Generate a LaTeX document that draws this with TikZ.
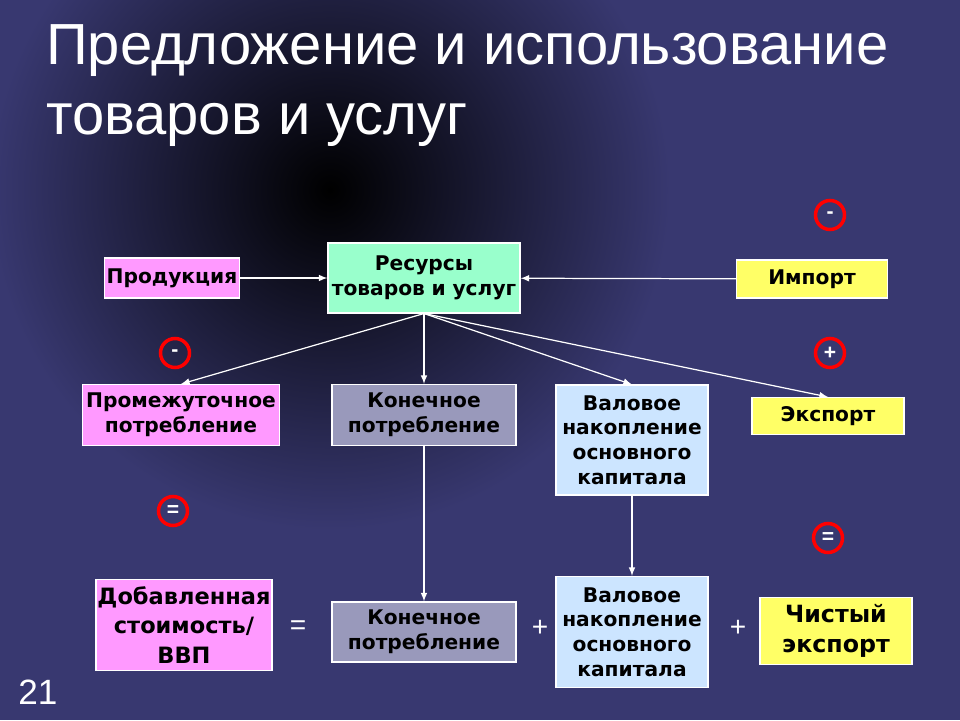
\documentclass[tikz,border=0pt]{standalone}
\usepackage{fontspec}
\setmainfont{Liberation Sans}
\newfontfamily\boxfont{DejaVu Sans}
\usetikzlibrary{positioning}
\definecolor{bgblue}{RGB}{56,56,112}
\definecolor{boxpink}{RGB}{255,153,255}
\definecolor{boxmint}{RGB}{153,255,204}
\definecolor{boxyellow}{RGB}{255,255,102}
\definecolor{boxgrey}{RGB}{153,153,187}
\definecolor{boxblue}{RGB}{204,229,255}
\tikzset{
  box/.style={draw=white, line width=0.6pt, inner sep=0pt, align=center,
    font=\boxfont\bfseries\fontsize{11.5}{14}\selectfont, text=black},
  sign/.style={draw=red, line width=2pt, circle, minimum size=0.58cm, inner sep=0pt,
    text=white, font=\bfseries\large},
  op/.style={text=white, font=\fontsize{16}{18}\selectfont},
  link/.style={draw=white, line width=0.7pt, -latex}
}
\begin{document}
\begin{tikzpicture}[x=0.02cm, y=-0.02cm]
  \useasboundingbox (0,0) rectangle (960,720);
  \begin{scope}
    \clip (0,0) rectangle (960,720);
    \fill[bgblue] (0,0) rectangle (960,720);
    \shade[inner color=black, outer color=bgblue] (330,190) circle (340);
  \end{scope}

  \node[anchor=north west, text=white, align=left,
    font=\fontsize{33}{40}\selectfont] (title) at (40,18)
    {Предложение и использование\\товаров и услуг};

  % supply row
  \node[box, fill=boxpink, text width=2.7cm, minimum height=0.8cm] (prod) at (172,278) {Продукция};
  \node[box, fill=boxmint, text width=3.84cm, minimum height=1.4cm] (res) at (424,278) {Ресурсы\\товаров и услуг};
  \node[box, fill=boxyellow, text width=3.02cm, minimum height=0.76cm] (imp) at (812,279) {Импорт};

  % use row
  \node[box, fill=boxpink, text width=3.94cm, minimum height=1.22cm] (inter) at (181,415) {Промежуточное\\потребление};
  \node[box, fill=boxgrey, text width=3.68cm, minimum height=1.22cm] (final) at (424,415) {Конечное\\потребление};
  \node[box, fill=boxblue, text width=3.04cm, minimum height=2.2cm] (gross) at (632,440) {Валовое\\накопление\\основного\\капитала};
  \node[box, fill=boxyellow, text width=3.04cm, minimum height=0.74cm] (exp) at (828,416) {Экспорт};

  % GDP row
  \node[box, fill=boxpink, text width=3.52cm, minimum height=1.82cm,
    font=\boxfont\bfseries\fontsize{12.8}{17}\selectfont] (gdp) at (184,625) {Добавленная\\стоимость/\\ВВП};
  \node[box, fill=boxgrey, text width=3.68cm, minimum height=1.2cm] (final2) at (424,632) {Конечное\\потребление};
  \node[box, fill=boxblue, text width=3.04cm, minimum height=2.22cm] (gross2) at (632,632) {Валовое\\накопление\\основного\\капитала};
  \node[box, fill=boxyellow, text width=3.04cm, minimum height=1.34cm,
    font=\boxfont\bfseries\fontsize{13.5}{17}\selectfont] (net) at (836,631) {Чистый\\экспорт};

  \node[op] (eq) at (298,628) {=};
  \node[op] (plus1) at (540,628) {+};
  \node[op] (plus2) at (738,628) {+};

  \node[sign] (s1) at (830,215) {-};
  \node[sign] (s2) at (175,353) {-};
  \node[sign] (s3) at (830,353) {+};
  \node[sign] (s4) at (173,511) {=};
  \node[sign] (s5) at (828,538) {=};

  \node[text=white, font=\fontsize{20}{22}\selectfont] (page) at (38,692) {21};

  \draw[link] (prod) -- (res);
  \draw[link] (imp) -- (res);
  \draw[link] (res.south) -- (inter.north);
  \draw[link] (res.south) -- (final.north);
  \draw[link] (res.south) -- (gross.north);
  \draw[link] (res.south) -- (exp.north);
  \draw[link] (final) -- (final2);
  \draw[link] (gross) -- (gross2);
\end{tikzpicture}
\end{document}
